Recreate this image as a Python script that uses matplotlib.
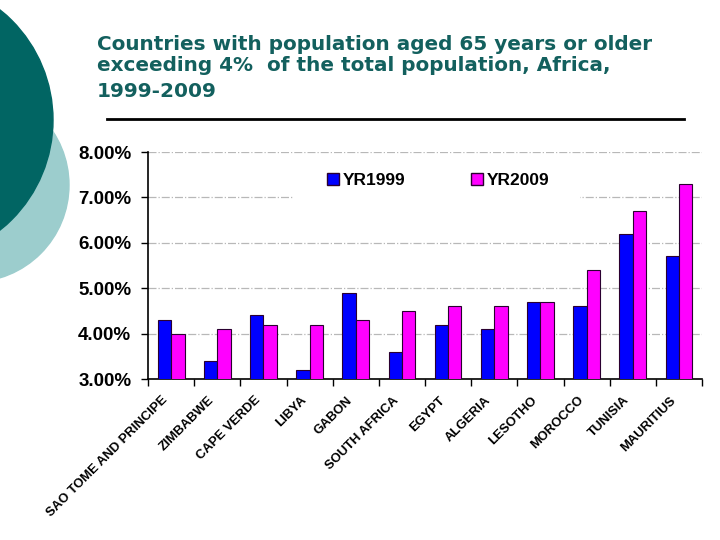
import numpy as np
import matplotlib.pyplot as plt
from matplotlib.patches import Circle, Rectangle
from matplotlib.lines import Line2D

# Data
countries = ['SAO TOME AND PRINCIPE', 'ZIMBABWE', 'CAPE VERDE', 'LIBYA', 'GABON',
             'SOUTH AFRICA', 'EGYPT', 'ALGERIA', 'LESOTHO', 'MOROCCO', 'TUNISIA',
             'MAURITIUS']
yr1999 = [4.3, 3.4, 4.4, 3.2, 4.9, 3.6, 4.2, 4.1, 4.7, 4.6, 6.2, 5.7]
yr2009 = [4.0, 4.1, 4.2, 4.2, 4.3, 4.5, 4.6, 4.6, 4.7, 5.4, 6.7, 7.3]
yticks = [3, 4, 5, 6, 7, 8]

teal_dark = '#016563'
teal_light = '#9ccdcd'
title_color = '#13605e'

fig = plt.figure(figsize=(7.2, 5.4), dpi=100)

# Decorative circles on the left of the slide
bg = fig.add_axes([0, 0, 1, 1])
bg.set_xlim(0, 720)
bg.set_ylim(540, 0)
bg.axis('off')
bg.add_patch(Circle((-28, 185), 97, color=teal_light, zorder=1))
bg.add_patch(Circle((-88, 120), 141, color=teal_dark, zorder=2))

# Title
tkw = dict(color=title_color, fontsize=14.4, fontweight='bold',
           family='DejaVu Sans', va='baseline', ha='left')
bg.text(97, 50, 'Countries with population aged 65 years or older', **tkw)
bg.text(97, 71, 'exceeding 4%  of the total population, Africa,', **tkw)
bg.text(97, 97, '1999-2009', **tkw)
bg.plot([107, 684], [119, 119], color='black', lw=2)

# Chart
ax = fig.add_axes([0.2056, 0.2981, 0.7694, 0.4204])
x = np.arange(len(countries))
w = 0.29
ax.bar(x - w / 2, yr1999, w, color='#0000ff', edgecolor='#2a0030',
       linewidth=0.8, zorder=3)
ax.bar(x + w / 2, yr2009, w, color='#ff00ff', edgecolor='#2a0030',
       linewidth=0.8, zorder=3)

ax.set_ylim(3, 8)
ax.set_xlim(-0.5, len(countries) - 0.5)
ax.set_yticks(yticks)
ax.set_yticklabels([f'{v:.2f}%' for v in yticks], fontsize=13.5, fontweight='bold',
                   family='Liberation Sans')
ax.yaxis.grid(True, color='#b8b8b8', linestyle='-.', linewidth=0.9)
ax.tick_params(axis='y', length=5, width=1, pad=7)

ax.set_xticks(x - 0.2)
ax.set_xticklabels(countries, rotation=45, ha='right', rotation_mode='anchor',
                   fontsize=9.4, fontweight='bold', family='Liberation Sans')
ax.tick_params(axis='x', which='major', length=0, pad=11)
ax.set_xticks(np.arange(-0.5, len(countries)), minor=True)
ax.tick_params(axis='x', which='minor', length=5, width=1)

for s in ['top', 'right']:
    ax.spines[s].set_visible(False)
ax.spines['left'].set_linewidth(1.2)
ax.spines['bottom'].set_linewidth(1.2)
ax.set_facecolor('none')

# white legend area hiding the gridline behind it
ax.add_patch(Rectangle((0.262, 0.79), 0.518, 0.15, transform=ax.transAxes,
                       facecolor='white', edgecolor='none', zorder=2))

handles = [Line2D([], [], marker='s', linestyle='none', markersize=8.5,
                  markerfacecolor='#0000ff', markeredgecolor='#2a0030'),
           Line2D([], [], marker='s', linestyle='none', markersize=8.5,
                  markerfacecolor='#ff00ff', markeredgecolor='#2a0030')]
leg = ax.legend(handles, ['YR1999', 'YR2009'], ncol=2, loc='center',
                bbox_to_anchor=(0.523, 0.875), frameon=False,
                columnspacing=3.75, handletextpad=0.15, handlelength=0.8,
                prop={'family': 'Liberation Sans', 'weight': 'bold', 'size': 12.5})

fig.savefig('out.png', dpi=100)
